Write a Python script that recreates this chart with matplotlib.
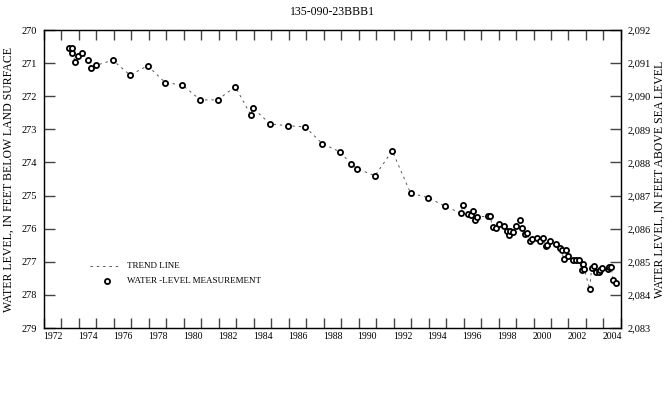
import numpy as np
import matplotlib
matplotlib.use("Agg")
import matplotlib.pyplot as plt
from matplotlib.ticker import FixedLocator, FuncFormatter

plt.rcParams['font.family'] = ['Liberation Serif', 'DejaVu Serif']

# decimal year of each measurement
anos = [1973.45, 1973.62, 1973.58, 1973.77, 1973.96, 1974.17, 1974.50, 1974.67, 1974.96,
        1975.93, 1976.92, 1977.93, 1978.94, 1979.91, 1980.94, 1981.93, 1982.94, 1983.82,
        1983.94, 1984.94, 1985.95, 1986.94, 1987.92, 1988.93, 1989.57, 1989.92, 1990.93,
        1991.92, 1992.97, 1993.98, 1994.96, 1995.85, 1995.95, 1996.25, 1996.40, 1996.54,
        1996.67, 1996.78, 1997.39, 1997.51, 1997.66, 1997.83, 1998.00, 1998.33, 1998.48,
        1998.58, 1998.67, 1998.84, 1998.98, 1999.21, 1999.32, 1999.49, 1999.61, 1999.78,
        1999.91, 2000.18, 2000.35, 2000.54, 2000.69, 2000.78, 2000.92, 2001.28, 2001.51,
        2001.61, 2001.72, 2001.84, 2001.99, 2002.25, 2002.41, 2002.58, 2002.81, 2002.77,
        2002.90, 2003.21, 2003.32, 2003.47, 2003.59, 2003.72, 2003.82, 2003.93, 2004.26,
        2004.33, 2004.45, 2004.56, 2004.70]
# water level, feet below land surface
nivel = [270.55, 270.55, 270.68, 270.98, 270.78, 270.70, 270.91, 271.16, 271.07,
         270.91, 271.36, 271.08, 271.59, 271.66, 272.11, 272.11, 271.71, 272.56,
         272.35, 272.84, 272.89, 272.93, 273.43, 273.68, 274.05, 274.19, 274.40,
         273.65, 274.93, 275.06, 275.33, 275.53, 275.30, 275.56, 275.58, 275.48,
         275.73, 275.64, 275.63, 275.61, 275.95, 275.97, 275.86, 275.92, 276.08,
         276.18, 276.08, 276.09, 275.91, 275.74, 275.98, 276.15, 276.14, 276.37,
         276.30, 276.27, 276.36, 276.28, 276.52, 276.50, 276.38, 276.47, 276.58,
         276.64, 276.93, 276.64, 276.83, 276.94, 276.94, 276.96, 277.08, 277.24,
         277.21, 277.83, 277.18, 277.12, 277.30, 277.30, 277.24, 277.19, 277.22,
         277.16, 277.16, 277.56, 277.65]

superficie = 2362  # land surface altitude
titulo = "135-090-23BBB1"
anos_etiqueta = list(range(1972, 2005, 2))

orden = np.argsort(anos)
x = np.array(anos)[orden]
y = np.array(nivel)[orden]

fig = plt.figure(figsize=(6.72, 3.96), dpi=100)
ax = fig.add_axes([0.0655, 0.1717, 0.8585, 0.7525])

ax.plot(x, y, color="#555555", lw=0.7, ls=(0, (2.5, 4)))
ax.plot(x, y, ls="none", marker="o", ms=3.7, mfc="white", mec="black", mew=1.3)

ax.set_xlim(1972, 2005)
ax.set_ylim(279, 270)
ax.set_yticks(range(270, 280))
ax.xaxis.set_major_locator(FixedLocator(range(1972, 2006)))
ax.xaxis.set_major_formatter(FuncFormatter(lambda v, p: ""))
ax.xaxis.set_minor_locator(FixedLocator([a + 0.5 for a in anos_etiqueta]))
ax.xaxis.set_minor_formatter(FuncFormatter(lambda v, p: str(int(v))))
ax.tick_params(axis="x", which="major", direction="in", length=7, width=1,
               top=True, bottom=True, color="#444444")
ax.tick_params(axis="x", which="minor", length=0, labelsize=7, pad=3)
ax.tick_params(axis="y", direction="in", length=8, width=1, labelsize=7.5,
               color="#444444", pad=5)
for s in ax.spines.values():
    s.set_linewidth(1)
    s.set_color("#222222")

ax2 = ax.twinx()
ax2.set_ylim(superficie - 279, superficie - 270)
ax2.set_yticks(range(superficie - 279, superficie - 269))
ax2.yaxis.set_major_formatter(FuncFormatter(lambda v, p: f"{int(v):,}"))
ax2.tick_params(axis="y", direction="in", length=8, width=1, labelsize=7.5,
                color="#444444", pad=5)

ax.set_ylabel("WATER LEVEL, IN FEET BELOW LAND SURFACE", fontsize=8.5, labelpad=5)
ax2.set_ylabel("WATER LEVEL, IN FEET ABOVE SEA LEVEL", fontsize=8.5, labelpad=2)
ax.set_title(titulo, fontsize=8.5, pad=11)

# legend
ax.plot([0.08, 0.132], [0.208, 0.208], transform=ax.transAxes, color="#555555",
        lw=0.7, ls=(0, (2.5, 4)))
ax.plot([0.109], [0.158], transform=ax.transAxes, ls="none", marker="o", ms=3.7,
        mfc="white", mec="black", mew=1.3)
ax.text(0.144, 0.208, "TREND LINE", transform=ax.transAxes, fontsize=6.5, va="center")
ax.text(0.144, 0.158, "WATER -LEVEL MEASUREMENT", transform=ax.transAxes,
        fontsize=6.5, va="center")

fig.savefig("out.png", dpi=100)
